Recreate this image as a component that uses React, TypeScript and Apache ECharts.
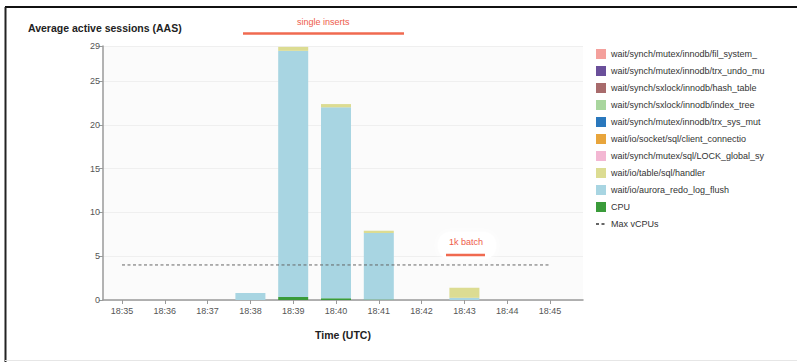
import React, { useEffect, useRef } from 'react';
import * as echarts from 'echarts';

const categories = ['18:35', '18:36', '18:37', '18:38', '18:39', '18:40', '18:41', '18:42', '18:43', '18:44', '18:45'];

const cpu = [0, 0, 0, 0, 0.35, 0.2, 0.05, 0, 0, 0, 0];
const auroraRedoLogFlush = [0, 0, 0, 0.8, 28.1, 21.8, 7.6, 0, 0.25, 0, 0];
const tableSqlHandler = [0, 0, 0, 0, 0.45, 0.37, 0.26, 0, 1.15, 0, 0];
const lockGlobal = [0, 0, 0, 0, 0, 0, 0, 0, 0, 0, 0];
const clientConnection = [0, 0, 0, 0, 0, 0, 0, 0, 0, 0, 0];
const trxSys = [0, 0, 0, 0, 0, 0, 0, 0, 0, 0, 0];
const indexTree = [0, 0, 0, 0, 0, 0, 0, 0, 0, 0, 0];
const hashTable = [0, 0, 0, 0, 0, 0, 0, 0, 0, 0, 0];
const trxUndo = [0, 0, 0, 0, 0, 0, 0, 0, 0, 0, 0];
const filSystem = [0, 0, 0, 0, 0, 0, 0, 0, 0, 0, 0];

const maxVcpus = [4, 4, 4, 4, 4, 4, 4, 4, 4, 4, 4];

const yMax = 29;
const yInterval = 5;

// stack order: bottom first
const stackSeries = [
  { name: 'CPU', data: cpu, color: '#3a9b3a' },
  { name: 'wait/io/aurora_redo_log_flush', data: auroraRedoLogFlush, color: '#a8d5e2' },
  { name: 'wait/io/table/sql/handler', data: tableSqlHandler, color: '#dcdc92' },
  { name: 'wait/synch/mutex/sql/LOCK_global_sy', data: lockGlobal, color: '#f3b7d3' },
  { name: 'wait/io/socket/sql/client_connectio', data: clientConnection, color: '#e8a53c' },
  { name: 'wait/synch/mutex/innodb/trx_sys_mut', data: trxSys, color: '#2a78bd' },
  { name: 'wait/synch/sxlock/innodb/index_tree', data: indexTree, color: '#a9d69e' },
  { name: 'wait/synch/sxlock/innodb/hash_table', data: hashTable, color: '#a86b6c' },
  { name: 'wait/synch/mutex/innodb/trx_undo_mu', data: trxUndo, color: '#6a4f9a' },
  { name: 'wait/synch/mutex/innodb/fil_system_', data: filSystem, color: '#f4a09c' },
];

const FONT = '"Liberation Sans", Arial, Helvetica, sans-serif';
const AXIS_COLOR = '#9a9a9a';

export default function App() {
  const ref = useRef<HTMLDivElement>(null);

  useEffect(() => {
    if (!ref.current) return;
    const chart = echarts.init(ref.current, undefined, { renderer: 'svg' });

    const legendData = [
      ...stackSeries.slice().reverse().map((s) => ({ name: s.name, icon: 'rect' })),
      { name: 'Max vCPUs', itemStyle: { opacity: 0, color: 'transparent' } },
    ];

    const option: any = {
      animation: false,
      textStyle: { fontFamily: FONT },
      title: {
        text: 'Average active sessions (AAS)',
        left: 23,
        top: 17,
        textStyle: { fontSize: 10.5, fontWeight: 'bold', color: '#222', fontFamily: FONT },
      },
      legend: {
        orient: 'vertical',
        left: 595,
        top: 49,
        padding: 0,
        itemWidth: 10,
        itemHeight: 10,
        itemGap: 7,
        itemTextGap: 4,
        data: legendData,
        textStyle: { fontSize: 9, color: '#333', fontFamily: FONT, lineHeight: 10 },
        selectedMode: false,
      },
      grid: [
        // bars grid (category bands centred on the ticks)
        { left: 100.6, right: 225.6, top: 46, bottom: 62, show: false },
        // frame grid (background, y axis, x axis line)
        { left: 103, right: 214, top: 46, bottom: 62, show: true, backgroundColor: '#fbfbfb', borderWidth: 0 },
      ],
      xAxis: [
        {
          type: 'category',
          gridIndex: 0,
          data: categories,
          boundaryGap: true,
          axisLine: { show: false },
          axisTick: { show: true, alignWithLabel: true, length: 4, lineStyle: { color: AXIS_COLOR } },
          axisLabel: { fontSize: 9, color: '#555', margin: 6, fontFamily: FONT },
          splitLine: { show: false },
        },
        {
          type: 'value',
          gridIndex: 1,
          min: 0,
          max: 1,
          axisLine: { show: true, lineStyle: { color: AXIS_COLOR, width: 1.5 } },
          axisTick: { show: false },
          axisLabel: { show: false },
          splitLine: { show: false },
          name: 'Time (UTC)',
          nameLocation: 'middle',
          nameGap: 29,
          nameTextStyle: { fontSize: 10.5, fontWeight: 'bold', color: '#222', fontFamily: FONT },
        },
      ],
      yAxis: [
        {
          type: 'value',
          gridIndex: 0,
          min: 0,
          max: yMax,
          interval: yInterval,
          show: false,
        },
        {
          type: 'value',
          gridIndex: 1,
          min: 0,
          max: yMax,
          interval: yInterval,
          axisLine: { show: true, lineStyle: { color: AXIS_COLOR, width: 1.5 } },
          axisTick: { show: true, length: 4, lineStyle: { color: AXIS_COLOR } },
          axisLabel: { fontSize: 9, color: '#555', margin: 3, fontFamily: FONT },
          splitLine: { show: true, lineStyle: { color: '#efefef', width: 1 } },
        },
      ],
      series: [
        ...stackSeries.map((s) => ({
          name: s.name,
          type: 'bar',
          xAxisIndex: 0,
          yAxisIndex: 0,
          stack: 'aas',
          barWidth: 30,
          itemStyle: { color: s.color },
          emphasis: { disabled: true },
          data: s.data,
        })),
        {
          name: 'Max vCPUs',
          type: 'line',
          xAxisIndex: 0,
          yAxisIndex: 0,
          symbol: 'none',
          lineStyle: { color: '#666', width: 1, type: [3, 2.5] },
          itemStyle: { color: '#666' },
          data: maxVcpus,
          z: 5,
        },
      ],
      graphic: [
        { type: 'line', shape: { x1: 5, y1: 7, x2: 797, y2: 7 }, style: { stroke: '#111', lineWidth: 2 } },
        { type: 'line', shape: { x1: 5.5, y1: 7, x2: 5.5, y2: 362 }, style: { stroke: '#222', lineWidth: 2 } },
        { type: 'line', shape: { x1: 5, y1: 360.5, x2: 797, y2: 360.5 }, style: { stroke: '#e6e6e6', lineWidth: 1 } },
        {
          type: 'text',
          left: 297,
          top: 17,
          style: { text: 'single inserts', fontSize: 9, fill: '#ee5a4a', fontFamily: FONT },
        },
        { type: 'line', shape: { x1: 243, y1: 33.5, x2: 404, y2: 33.5 }, style: { stroke: '#f06a50', lineWidth: 2.5 } },
        {
          type: 'rect',
          shape: { x: 438, y: 232, width: 58, height: 27, r: 12 },
          style: { fill: '#ffffff', shadowBlur: 6, shadowColor: '#ffffff' },
          z: 10,
        },
        {
          type: 'text',
          x: 466,
          y: 242,
          style: { text: '1k batch', fontSize: 9, fill: '#ee5a4a', fontFamily: FONT, align: 'center', verticalAlign: 'middle' },
          z: 11,
        },
        { type: 'line', shape: { x1: 446, y1: 255, x2: 485, y2: 255 }, style: { stroke: '#f06a50', lineWidth: 2.5 }, z: 11 },
      ],
    };

    chart.setOption(option);
    return () => chart.dispose();
  }, []);

  return (
    <div
      ref={ref}
      style={{ position: 'fixed', left: 0, top: 0, width: 797, height: 362, background: '#ffffff' }}
    />
  );
}
